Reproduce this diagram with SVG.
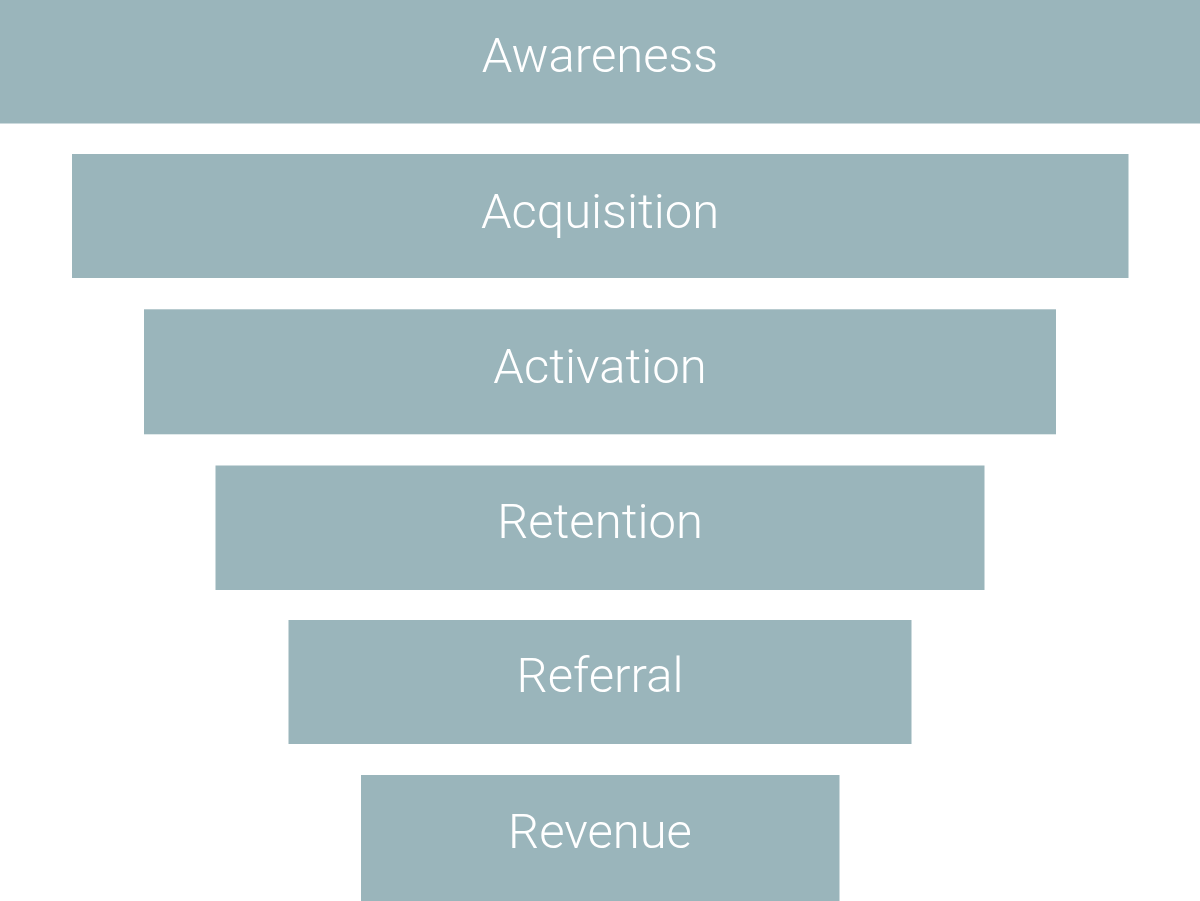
<svg xmlns="http://www.w3.org/2000/svg" width="1200" height="901" viewBox="0 0 1200 901">
<style>
.bar{fill:#9ab5bb}
.lbl{fill:#ffffff;font-family:Roboto,"Liberation Sans",sans-serif;font-size:49px;font-weight:300;text-anchor:middle}
</style>
<rect width="1200" height="901" fill="#ffffff"/>
<g id="awareness"><rect class="bar" x="0" y="-1" width="1200" height="124.5"/><text class="lbl" x="600" y="72">Awareness</text></g>
<g id="acquisition"><rect class="bar" x="72" y="154" width="1056.5" height="124"/><text class="lbl" x="600" y="228">Acquisition</text></g>
<g id="activation"><rect class="bar" x="144" y="309.3" width="912" height="125"/><text class="lbl" x="600" y="383">Activation</text></g>
<g id="retention"><rect class="bar" x="215.5" y="465.5" width="769" height="124.5"/><text class="lbl" x="600" y="538">Retention</text></g>
<g id="referral"><rect class="bar" x="288.5" y="620" width="623" height="124"/><text class="lbl" x="600" y="692">Referral</text></g>
<g id="revenue"><rect class="bar" x="361" y="775" width="478.5" height="127"/><text class="lbl" x="600" y="848">Revenue</text></g>
<g id="connectors"/>
</svg>
